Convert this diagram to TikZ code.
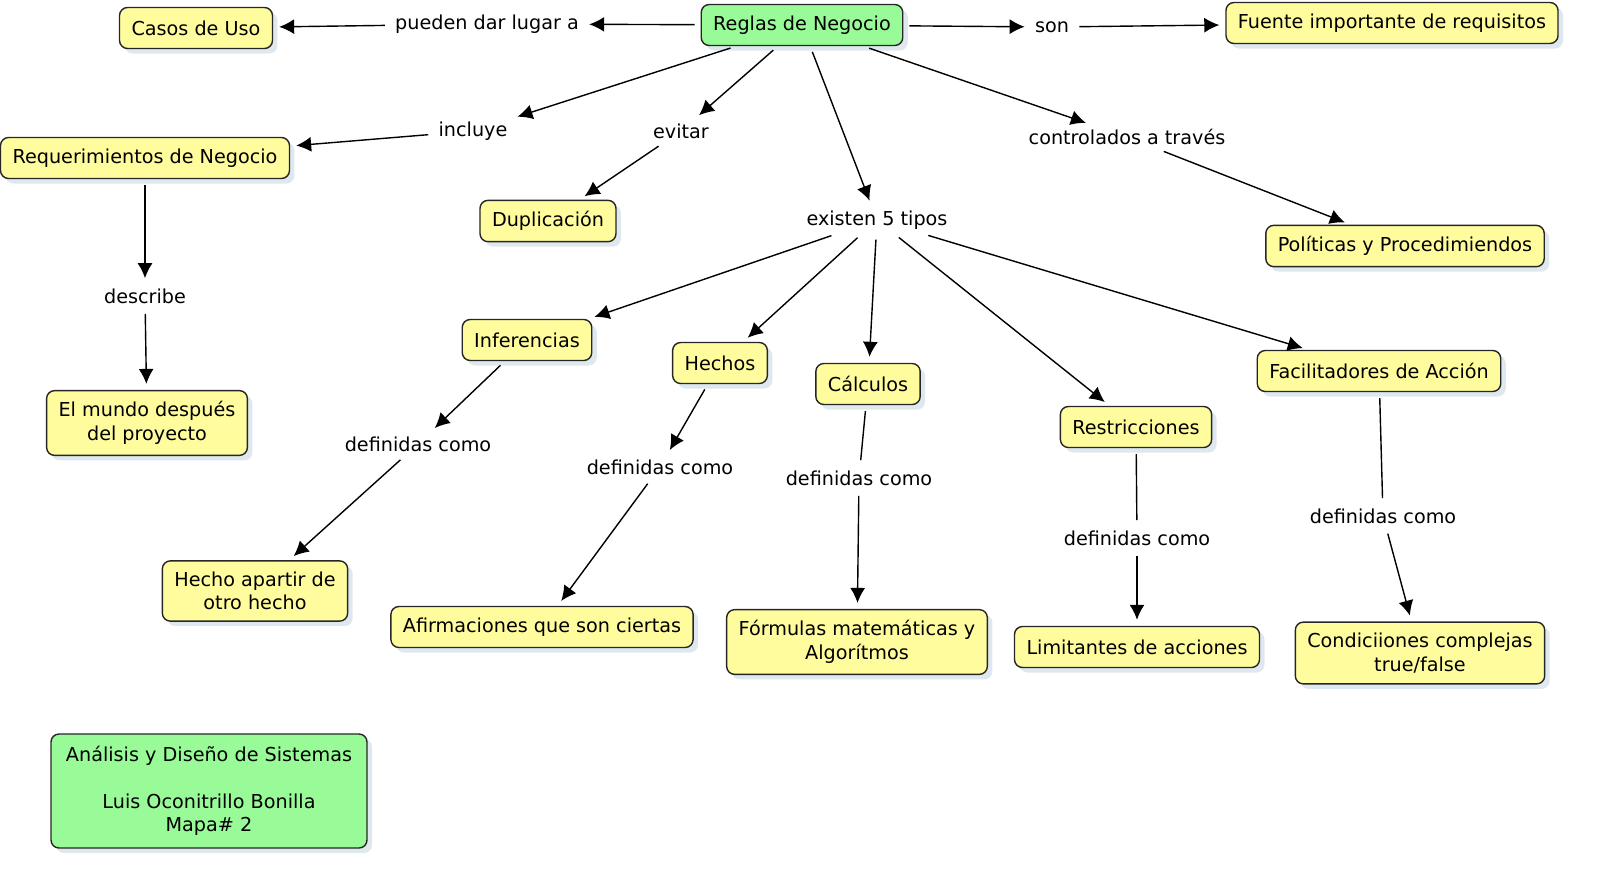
\documentclass[tikz,border=0pt]{standalone}
\usepackage{fontspec}
\setmainfont{DejaVu Sans}
\usetikzlibrary{arrows.meta,shadows}
\definecolor{cyellow}{RGB}{255,252,158}
\definecolor{cgreen}{RGB}{152,251,152}
\definecolor{cshadow}{RGB}{222,232,238}
\tikzset{
concept/.style={
  draw=black!85, line width=0.7pt, rounded corners=4pt,
  fill=cyellow, align=center,
  inner xsep=6pt, inner ysep=5.5pt, minimum height=20.5pt,
  drop shadow={fill=cshadow, opacity=1, shadow xshift=2.5pt, shadow yshift=-2.5pt}
  },
root/.style={concept, fill=cgreen},
link/.style={inner sep=2pt},
conn/.style={line width=0.7pt, shorten <=3pt, shorten >=3pt}
}

\begin{document}
\begin{tikzpicture}[x=0.5pt, y=-0.5pt, >={Latex[length=7.5pt,width=7.5pt]},
  every node/.style={font=\fontsize{9.6}{11.7}\selectfont}]
\useasboundingbox (0,0) rectangle (1600,868);

% concepts
\node[root] (reglas) at (802,25) {Reglas de Negocio};
\node[concept] (casos) at (196,28) {Casos de Uso};
\node[concept] (fuente) at (1392,23) {Fuente importante de requisitos};
\node[concept] (req) at (145,158) {Requerimientos de Negocio};
\node[concept] (dup) at (548,221) {Duplicación};
\node[concept] (polit) at (1405,246) {Políticas y Procedimiendos};
\node[concept] (infer) at (527,340) {Inferencias};
\node[concept] (hechos) at (720,363) {Hechos};
\node[concept] (calc) at (868,384) {Cálculos};
\node[concept] (restr) at (1136,427) {Restricciones};
\node[concept] (facil) at (1379,371) {Facilitadores de Acción};
\node[concept] (mundo) at (147,423) {El mundo después\\del proyecto};
\node[concept] (hecho2) at (255,591) {Hecho apartir de\\otro hecho};
\node[concept] (afirm) at (542,627) {Afirmaciones que son ciertas};
\node[concept] (form) at (857,642) {Fórmulas matemáticas y\\Algorítmos};
\node[concept] (limit) at (1137,647) {Limitantes de acciones};
\node[concept] (cond) at (1420,653) {Condiciiones complejas\\true/false};
\node[root, minimum width=158pt, minimum height=57pt] (autor) at (209,791)
  {Análisis y Diseño de Sistemas\\[11.5pt]Luis Oconitrillo Bonilla\\Mapa\# 2};

% linking phrases
\node[link] (lpueden) at (487,24) {pueden dar lugar a};
\node[link] (lson) at (1052,27) {son};
\node[link] (lincluye) at (473,131) {incluye};
\node[link] (levitar) at (681,131) {evitar};
\node[link] (lcontrol) at (1127,137) {controlados a través};
\node[link] (lexisten) at (877,220) {existen 5 tipos};
\node[link] (ldescribe) at (145,296) {describe};
\node[link] (ldef1) at (418,444) {definidas como};
\node[link] (ldef2) at (660,467) {definidas como};
\node[link] (ldef3) at (859,478) {definidas como};
\node[link] (ldef4) at (1137,538) {definidas como};
\node[link] (ldef5) at (1383,516) {definidas como};

% connectors
\draw[conn,->] (reglas) -- (lpueden);
\draw[conn,->] (lpueden) -- (casos);
\draw[conn,->] (reglas) -- (lson);
\draw[conn,->] (lson) -- (fuente);
\draw[conn,->] (reglas) -- (lincluye);
\draw[conn,->] (lincluye) -- (req);
\draw[conn,->] (reglas) -- (levitar);
\draw[conn,->] (levitar) -- (dup);
\draw[conn,->] (reglas) -- (lcontrol);
\draw[conn,->] (lcontrol) -- (polit);
\draw[conn,->] (reglas) -- (lexisten);
\draw[conn,->] (req) -- (ldescribe);
\draw[conn,->] (ldescribe) -- (mundo);

\draw[conn,->] (lexisten) -- (infer);
\draw[conn,->] (lexisten) -- (hechos);
\draw[conn,->] (lexisten) -- (calc);
\draw[conn,->] (lexisten) -- (restr);
\draw[conn,->] (lexisten) -- (facil);

\draw[conn,->] (infer) -- (ldef1);
\draw[conn,->] (ldef1) -- (hecho2);
\draw[conn,->] (hechos) -- (ldef2);
\draw[conn,->] (ldef2) -- (afirm);
\draw[conn] (calc) -- (ldef3);
\draw[conn,->] (ldef3) -- (form);
\draw[conn] (restr) -- (ldef4);
\draw[conn,->] (ldef4) -- (limit);
\draw[conn] (facil) -- (ldef5);
\draw[conn,->] (ldef5) -- (cond);
\end{tikzpicture}
\end{document}
